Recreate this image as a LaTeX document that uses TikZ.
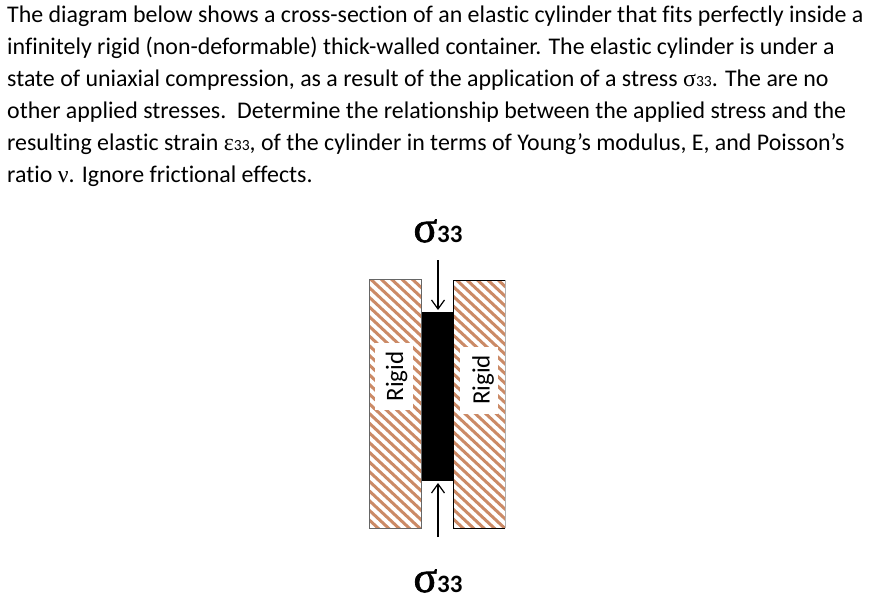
\documentclass[tikz,border=0pt]{standalone}
\usepackage{fontspec}
\setmainfont[Ligatures=CommonOff]{Carlito}
\newfontfamily\symfont{Liberation Serif}
\newfontfamily\symheavy[FakeBold=1.6]{Liberation Serif}
\usetikzlibrary{arrows.meta}
\definecolor{hatchbrown}{RGB}{203,138,102}
\tikzset{
 body/.style={anchor=base west,inner sep=0pt,font=\fontsize{23.9}{26}\selectfont},
 wall/.style={draw=black,line width=0.9pt},
 rigidlabel/.style={fill=white,inner sep=0pt,minimum width=67pt,minimum height=38pt,rotate=90,font=\fontsize{25}{27}\selectfont},
 sigmalabel/.style={inner sep=0pt,anchor=base,font=\bfseries\fontsize{25}{28}\selectfont},
 force/.style={line width=1.2pt,-{Straight Barb[length=9pt,width=13pt,line width=1.2pt]}}
}
\newcommand{\sig}{{\symfont\char"03C3}}
\newcommand{\eps}{{\symfont\char"03B5}}
\newcommand{\nuu}{{\symfont\char"03BD}}
\newcommand{\sbt}{{\fontsize{15.5}{16}\selectfont 33}}
\newcommand{\bigsig}{{\mdseries\symheavy\fontsize{44}{44}\selectfont\char"03C3}}
\begin{document}
\begin{tikzpicture}[x=1pt,y=-1pt]
\useasboundingbox (0,0) rectangle (869,605);
\node[body] (l1) at (7,22) {The diagram below shows a cross-section of an elastic cylinder that fits perfectly inside a};
\node[body] (l2) at (7,54) {infinitely rigid (non-deformable) thick-walled container. The elastic cylinder is under a};
\node[body] (l3) at (7,86.5) {state of uniaxial compression, as a result of the application of a stress \sig\sbt. The are no};
\node[body] (l4) at (7,118) {other applied stresses.\ \ Determine the relationship between the applied stress and the};
\node[body] (l5) at (7,150) {resulting elastic strain \eps\sbt, of the cylinder in terms of Young’s modulus, E, and Poisson’s};
\node[body] (l6) at (7,182) {ratio \nuu. Ignore frictional effects.};
\begin{scope}
\clip (369.5,279.5) rectangle (421.5,528);
\foreach \k in {-30,...,20} {
 \draw[hatchbrown,line width=3pt] (340+\k*10.4,270) -- ++(290,270);
}
\end{scope}
\begin{scope}
\clip (453.5,280) rectangle (505,528);
\foreach \k in {-30,...,20} {
 \draw[hatchbrown,line width=3pt] (425+\k*10.4,270) -- ++(290,270);
}
\end{scope}
\draw[wall,draw=gray!80!black] (369.5,279.5) -- (421.5,279.5) -- (421.5,528) -- (369.5,528) -- cycle;
\draw[wall,draw=gray!60] (505,280) -- (505,528);
\draw[wall] (505,280) -- (453.5,280) -- (453.5,528) -- (505,528);
\draw[fill=black,draw=black] (422.5,312.5) rectangle (453,480);
\node[rigidlabel] (rl) at (394,376.5) {\raisebox{-9pt}[0pt][0pt]{Rigid}};
\node[rigidlabel] (rr) at (479,380) {\raisebox{-10.5pt}[0pt][0pt]{Rigid}};
\node[sigmalabel] (st) at (438,242) {\bigsig{\fontsize{25}{28}\selectfont 33}};
\node[sigmalabel] (sb) at (438,592) {\bigsig{\fontsize{25}{28}\selectfont 33}};
\coordinate (at) at (438,260);
\coordinate (ab) at (438,537);
\coordinate (ct) at (438,310);
\coordinate (cb) at (438,483);
\draw[force] (at) -- (ct);
\draw[force] (ab) -- (cb);
\end{tikzpicture}
\end{document}
